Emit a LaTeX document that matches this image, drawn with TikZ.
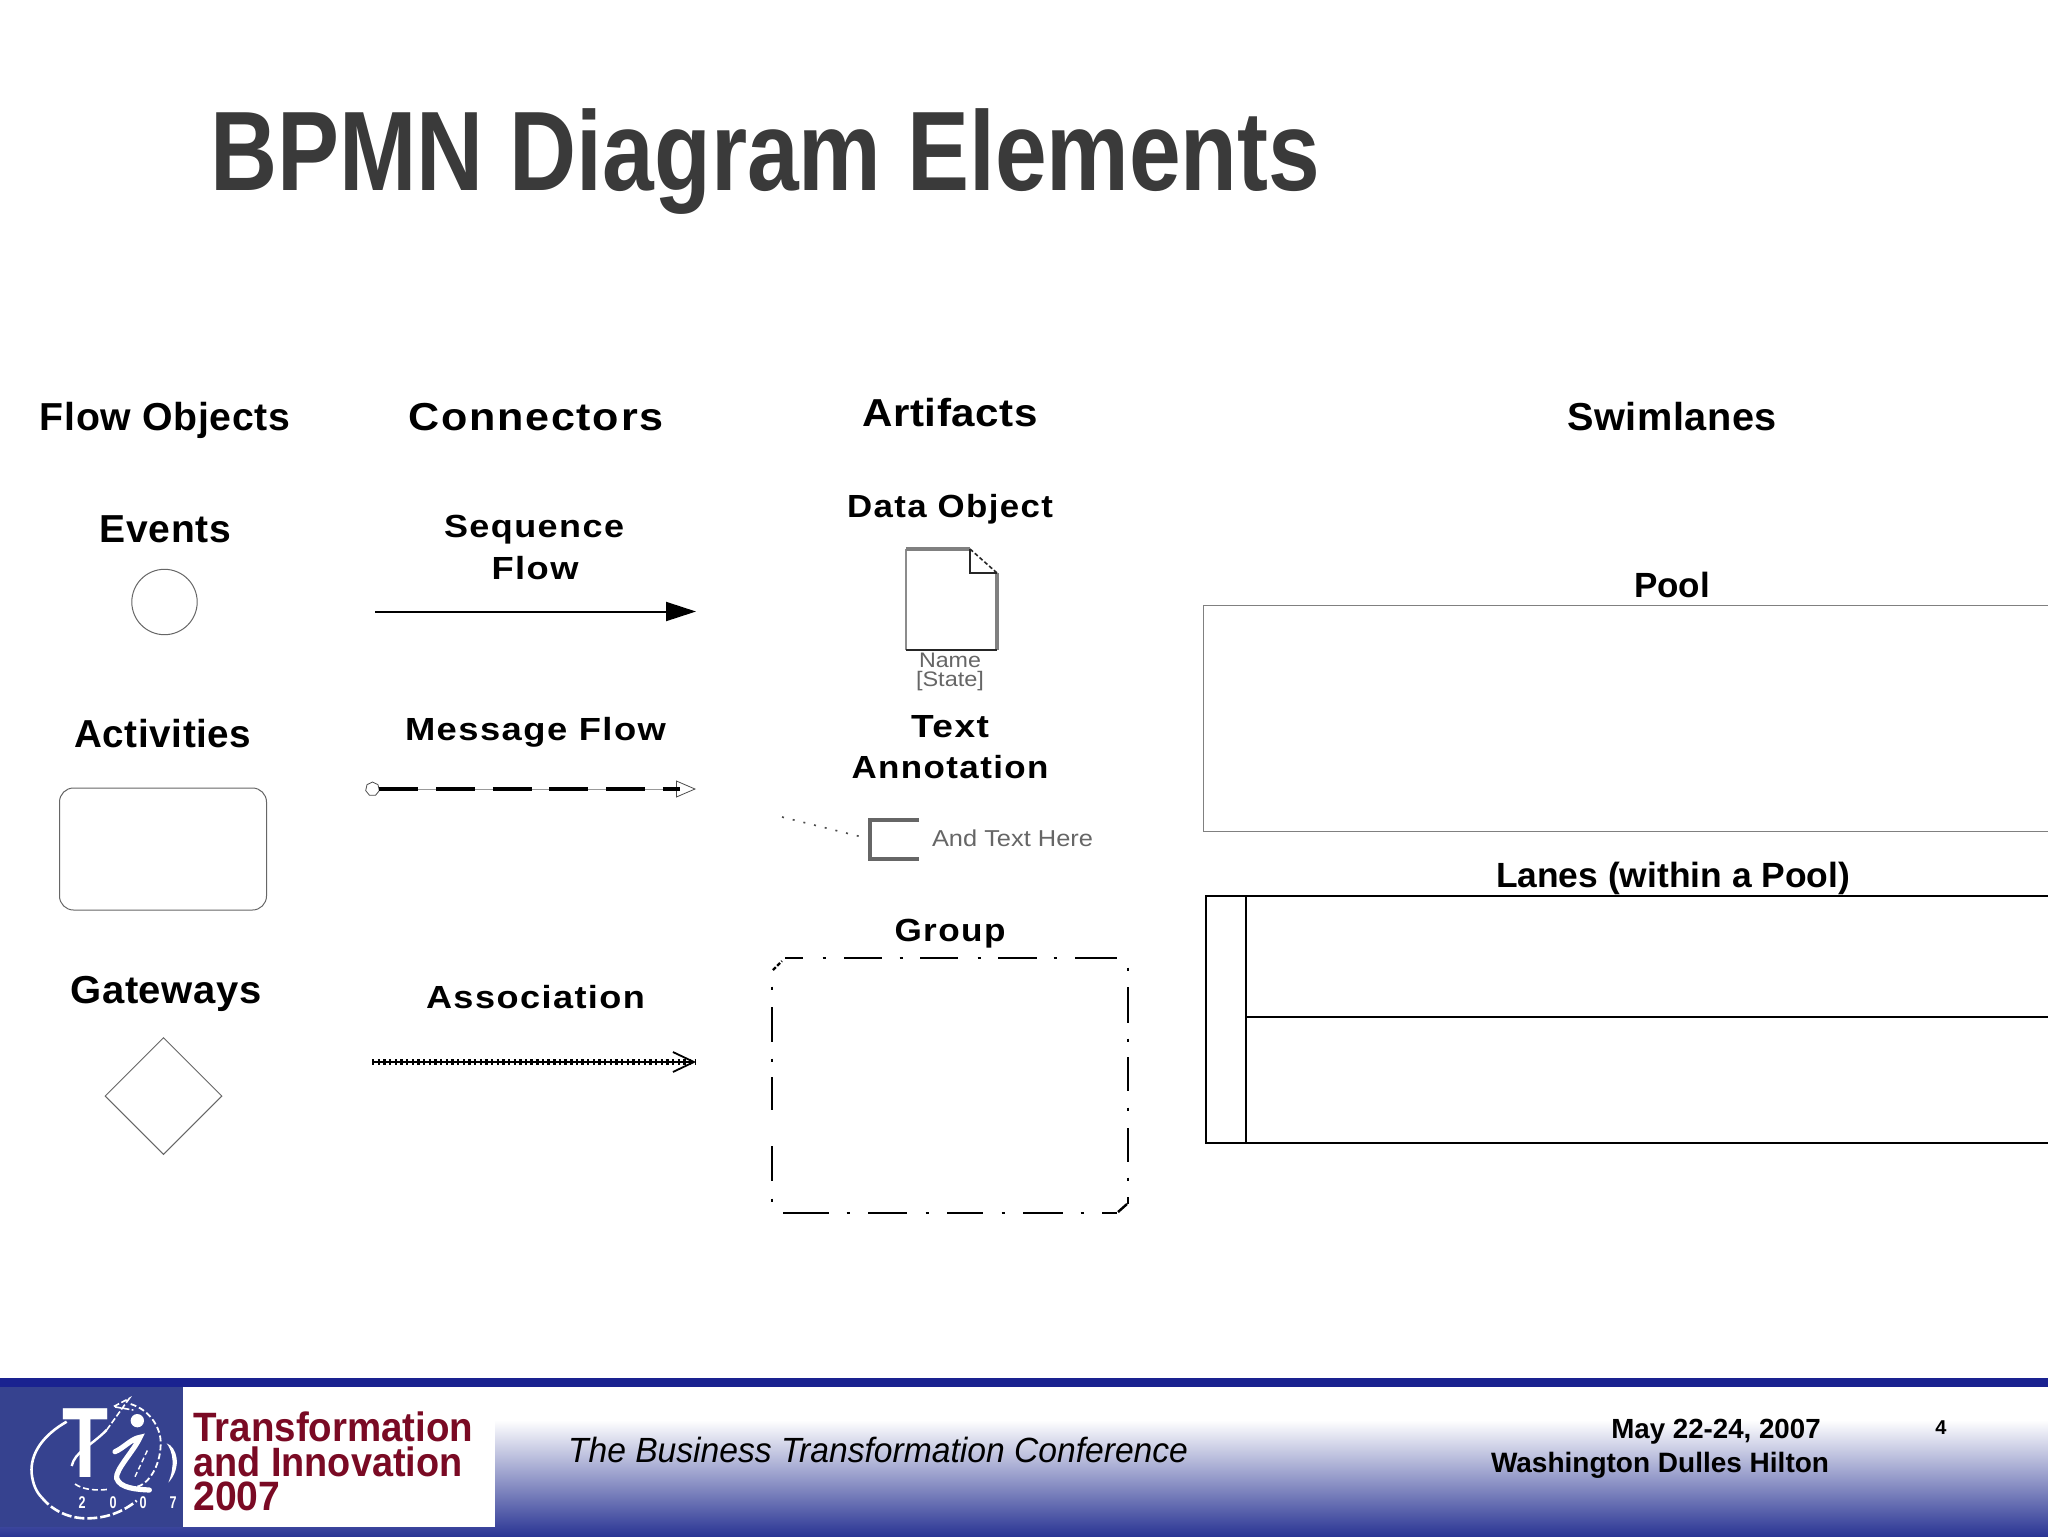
\documentclass[tikz,border=0pt]{standalone}
\usepackage{fontspec}
\usetikzlibrary{arrows.meta,shapes.geometric}
\setmainfont{Liberation Sans}
\newfontfamily\spaced[LetterSpace=4]{Liberation Sans}
\newfontfamily\spacedlow[LetterSpace=1.5]{Liberation Sans}
\newcommand{\fsz}[1]{\fontsize{#1}{#1}\selectfont}
\newcommand{\fw}[2]{\resizebox{#1pt}{\height}{#2}}
\definecolor{titlegray}{HTML}{3A3A3A}
\definecolor{navy}{HTML}{1A2290}
\definecolor{logoblue}{HTML}{36428F}
\definecolor{logored}{HTML}{7A0A24}
\definecolor{footlow}{HTML}{2A3594}
\definecolor{footmid}{HTML}{8A90C6}
\tikzset{
  lbl/.style={inner sep=0pt,anchor=base,font=\spacedlow\bfseries\fsz{19.5},text=black,align=center},
  lbls/.style={lbl,font=\spaced\bfseries\fsz{19.5}},
  lblb/.style={lbl,font=\spaced\bfseries\fsz{16}},
  lblc/.style={lbl,font=\bfseries\fsz{17.5}},
  thinshape/.style={draw=black!60,line width=0.5pt,fill=white,inner sep=0pt},
  lane/.style={draw=black,line width=1pt},
  grpline/.style={draw=black,line width=1.2pt},
  logoline/.style={draw=white,line width=1.3pt},
}
\begin{document}
\begin{tikzpicture}[x=0.5pt,y=-0.5pt]
\useasboundingbox (0,0) rectangle (2048,1536);
\fill[white] (0,0) rectangle (2048,1536);
% title
\node[inner sep=0pt,anchor=base west,text=titlegray,font=\bfseries\fsz{56.5}] (title) at (210,190) {\fw{555}{BPMN Diagram Elements}};
% column heads
\node[lbl] (hflow) at (165,430) {\fw{125}{Flow Objects}};
\node[lbls] (hconn) at (536,430) {\fw{127.5}{Connectors}};
\node[lbl] (hart) at (950,426) {\fw{88}{Artifacts}};
\node[lbl] (hswim) at (1672,430) {\fw{105}{Swimlanes}};
% flow objects
\node[lbl] (events) at (165.5,542) {\fw{65.5}{Events}};
\node[thinshape,circle,minimum size=32.7pt] (evc) at (164.5,602) {};
\node[lbl] (activ) at (163,747) {\fw{88.5}{Activities}};
\node[thinshape,rectangle,rounded corners=7pt,minimum width=103.5pt,minimum height=61pt] (acr) at (163,849) {};
\node[lbl] (gate) at (166,1003) {\fw{95.5}{Gateways}};
\node[thinshape,diamond,minimum width=58.5pt,minimum height=58.5pt] (gd) at (163.5,1096) {};
% connectors
\node[lblb] (seq1) at (534,537) {\fw{90}{Sequence}};
\node[lblb] (seq2) at (535,579) {\fw{43.5}{Flow}};
\coordinate (sa) at (375,611.5);
\coordinate (sb) at (696,611.5);
\draw[line width=1pt,-{Triangle[length=15pt,width=9.5pt]}] (sa) -- (sb);
\node[lblb] (msg) at (535.5,740) {\fw{130.5}{Message Flow}};
\node[draw=black!70,line width=0.4pt,regular polygon,regular polygon sides=7,minimum size=7pt,inner sep=0pt,fill=white] (ms) at (372.5,789) {};
\coordinate (me) at (696,789);
\coordinate (mh) at (670,789);
\coordinate (md) at (680,789);
\draw[draw=black!40,line width=0.4pt] (ms) -- (mh);
\draw[draw=black!70,line width=0.4pt,-{Triangle[open,fill=white,length=10pt,width=8.5pt]}] (mh) -- (me);
\draw[line width=1.8pt,dash pattern=on 19.5pt off 8.85pt] (ms.east) -- (md);
\node[lblb] (asc) at (535.5,1008) {\fw{109.5}{Association}};
\coordinate (aa) at (372,1062);
\coordinate (ab) at (696,1062);
\draw[line width=2.6pt,dash pattern=on 1.2pt off 1.63pt] (aa) -- (ab);
\draw[line width=0.9pt,-{Straight Barb[length=10.5pt,width=10pt]}] (aa) -- (ab);
% artifacts
\node[lblb] (dobj) at (950,517) {\fw{103}{Data Object}};
\coordinate (d1) at (906,549);\coordinate (d2) at (970,549);\coordinate (d3) at (997,573);
\coordinate (d4) at (997,650);\coordinate (d5) at (906,650);\coordinate (d6) at (970,573);
\fill[white] (d1) -- (d2) -- (d3) -- (d4) -- (d5) -- cycle;
\draw[black!45,line width=1pt] (d5) -- (d1);
\draw[black!50,line width=1.8pt] (d1) -- (d2);
\draw[black!50,line width=2pt] (d3) -- (d4);
\draw[black!85,line width=0.9pt] (d4) -- (d5);
\draw[black!85,line width=0.9pt] (d2) -- (d6) -- (d3);
\draw[black!85,line width=0.8pt,dash pattern=on 2pt off 1.2pt] (d2) -- (d3);
\node[inner sep=0pt,font=\fsz{10.5},text=black!60] (dname) at (950,660) {\fw{31}{Name}};
\node[inner sep=0pt,font=\fsz{10.5},text=black!60] (dstate) at (950,681) {\fw{34}{[State]}};
\node[lblb] (ta1) at (950,737) {\fw{39}{Text}};
\node[lblb] (ta2) at (950,778) {\fw{98.5}{Annotation}};
\coordinate (tb1) at (919,820);\coordinate (tb2) at (870,820);\coordinate (tb3) at (870,859);\coordinate (tb4) at (919,859);
\draw[black!60,line width=1.6pt] (tb1) -- (tb2) -- (tb3) -- (tb4);
\coordinate (tl) at (782,817);\coordinate (tr) at (866,838);
\draw[black!70,line width=0.8pt,dash pattern=on 1pt off 4.5pt] (tl) -- (tr);
\node[inner sep=0pt,font=\fsz{11.5},text=black!60] (ttxt) at (1012.5,838) {\fw{80.5}{And Text Here}};
\node[lblb] (grp) at (950,941) {\fw{55.5}{Group}};
% group frame, drawn piece by piece as its dashes fall
\foreach \a/\b in {785/803,822.5/825.5,844/882,899.5/902.5,920/958,977.5/980.5,998/1037,1053.5/1056.5,1075/1117}
  \draw[grpline] (\a,958) -- (\b,958);
\foreach \a/\b in {783/829,846.5/849.5,868/907,925.5/928.5,947/983,1001.5/1004.5,1023/1063,1080.5/1083.5,1102/1117}
  \draw[grpline] (\a,1213) -- (\b,1213);
\foreach \a/\b in {986.5/989.5,1007/1042,1058.5/1061.5,1077/1110,1146/1181,1198.5/1201.5}
  \draw[grpline] (772,\a) -- (772,\b);
\foreach \a/\b in {967.5/970.5,987/1023,1038.5/1041.5,1057/1091,1107.5/1110.5,1128/1162,1177.5/1180.5,1197/1204}
  \draw[grpline] (1128,\a) -- (1128,\b);
\draw[grpline,dash pattern=on 2pt off 1pt] (773,970) -- (782,961);
\draw[grpline] (1127,1204) -- (1118,1212);
% swimlanes
\node[lblc] (pool) at (1672,597) {Pool};
\draw[black!50,line width=0.5pt] (2060,605) -- (1203,605) -- (1203,831) -- (2060,831);
\node[lblc] (lanes) at (1673,887) {\fw{177}{Lanes (within a Pool)}};
\draw[lane] (2060,896) -- (1206,896) -- (1206,1143) -- (2060,1143);
\draw[lane] (1246,896) -- (1246,1143);
\draw[lane] (1246,1017) -- (2060,1017);
% footer
\shade[top color=white,middle color=footmid,bottom color=footlow] (0,1420) rectangle (2048,1536);
\fill[white] (0,1387) rectangle (2048,1420);
\fill[navy] (0,1378) rectangle (2048,1387);
\fill[white] (183,1387) rectangle (495,1527);
\fill[logoblue] (0,1387) rectangle (183,1527);
\begin{scope}[font=\bfseries\fsz{20.5},text=logored]
\node[inner sep=0pt,anchor=base west] (lt1) at (193,1441) {\fw{140}{Transformation}};
\node[inner sep=0pt,anchor=base west] (lt2) at (193,1476) {\fw{134.5}{and Innovation}};
\node[inner sep=0pt,anchor=base west] (lt3) at (193,1510) {\fw{43.5}{2007}};
\end{scope}
% logo mark (coordinates in thirds of a pixel)
\node[inner sep=0pt,anchor=base,text=white,font=\bfseries\fsz{50}] (lT) at (85,1477) {\fw{23}{T}};
\begin{scope}[shift={(0,1380)},x=0.16667pt,y=-0.16667pt]
\draw[logoline] (200,125) .. controls (130,165) and (90,220) .. (95,280) .. controls (98,310) and (108,335) .. (125,352);
\draw[logoline,dash pattern=on 5pt off 1.5pt] (125,352) .. controls (160,395) and (210,415) .. (260,415) .. controls (320,415) and (370,395) .. (410,362);
\draw[logoline,line width=0.8pt,dash pattern=on 3pt off 1.2pt] (320,150) -- (388,55) -- (340,80) -- (400,90);
\draw[logoline,line width=1.2pt] (215,258) .. controls (225,215) and (270,200) .. (320,150);
\draw[logoline,line width=0.9pt,dash pattern=on 3pt off 1.5pt] (392,72) .. controls (450,90) and (485,145) .. (482,195) .. controls (480,260) and (445,315) .. (405,322);
\draw[logoline,line width=0.7pt,dash pattern=on 2.5pt off 1.5pt] (405,290) -- (445,205);
\draw[logoline,line width=0.8pt,dash pattern=on 3pt off 1.5pt] (225,312) .. controls (250,330) and (290,332) .. (325,328);
\fill[white] (412,122) circle (20);
\draw[logoline,line width=2.6pt,line cap=round] (345,215) .. controls (370,205) and (395,175) .. (420,172) .. controls (400,215) and (345,270) .. (350,295) .. controls (360,325) and (410,328) .. (448,330);
\fill[white] (500,190) .. controls (530,200) and (548,260) .. (505,308) .. controls (525,260) and (520,215) .. (500,190) -- cycle;
\end{scope}
\begin{scope}[font=\bfseries\fsz{8.5},text=white]
\node[inner sep=0pt] (y1) at (82,1503) {\fw{3.5}{2}};
\node[inner sep=0pt] (y2) at (113,1503) {\fw{3.5}{0}};
\node[inner sep=0pt] (y3) at (143,1503) {\fw{3.5}{0}};
\node[inner sep=0pt] (y4) at (173,1503) {\fw{3.5}{7}};
\end{scope}
% footer text
\node[inner sep=0pt,font=\itshape\fsz{17.5}] (ft) at (878,1450) {\fw{310}{The Business Transformation Conference}};
\node[inner sep=0pt,font=\bfseries\fsz{13.85}] (f1) at (1716,1431.5) {May 22-24, 2007};
\node[inner sep=0pt,font=\bfseries\fsz{14}] (f2) at (1660,1465.5) {Washington Dulles Hilton};
\node[inner sep=0pt,font=\bfseries\fsz{10}] (f3) at (1941,1428) {4};
\end{tikzpicture}
\end{document}
